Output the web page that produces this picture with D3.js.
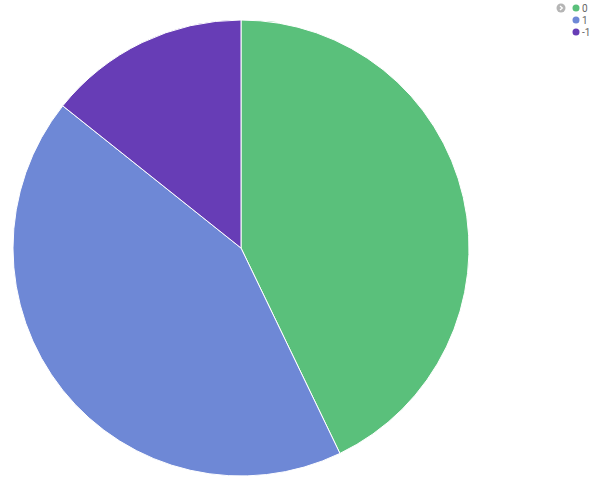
<!DOCTYPE html>
<html>
<head>
<meta charset="utf-8">
<script src="https://cdn.jsdelivr.net/npm/d3@7"></script>
<style>
  body { margin: 0; background: #fff; }
  svg { display: block; }
</style>
</head>
<body>
<div id="chart"></div>
<script>
const categories = ["0", "1", "-1"];
const counts = [3, 3, 1];
const colors = ["#5ac07b", "#6e88d6", "#673db6"];

const width = 600, height = 497;
const cx = 241, cy = 248, radius = 228;

const data = categories.map((c, i) => ({ label: c, value: counts[i] }));

const svg = d3.select("#chart")
    .append("svg")
    .attr("width", width)
    .attr("height", height);

const color = d3.scaleOrdinal().domain(categories).range(colors);

const pie = d3.pie()
    .value(d => d.value)
    .sort(null);

const arc = d3.arc()
    .innerRadius(0)
    .outerRadius(radius);

svg.append("g")
    .attr("transform", `translate(${cx},${cy})`)
    .selectAll("path")
    .data(pie(data))
    .join("path")
    .attr("d", arc)
    .attr("fill", d => color(d.data.label))
    .attr("stroke", "#fff")
    .attr("stroke-width", 1);

// legend, top right
const legend = svg.append("g").attr("transform", "translate(0,0)");

const nav = legend.append("g").attr("transform", "translate(561,8)");
nav.append("circle").attr("r", 4.5).attr("fill", "#b5b5b5");
nav.append("path")
    .attr("d", "M-1,-2 L1.3,0 L-1,2")
    .attr("fill", "none")
    .attr("stroke", "#fff")
    .attr("stroke-width", 1.3);

const item = legend.selectAll("g.item")
    .data(categories)
    .join("g")
    .attr("class", "item")
    .attr("transform", (d, i) => `translate(576,${8 + i * 12})`);

item.append("circle")
    .attr("r", 3.5)
    .attr("fill", d => color(d));

item.append("text")
    .attr("x", 6)
    .attr("dy", "0.35em")
    .attr("font-family", "Roboto, sans-serif")
    .attr("font-size", 10)
    .attr("fill", "#666")
    .text(d => d);
</script>
</body>
</html>
